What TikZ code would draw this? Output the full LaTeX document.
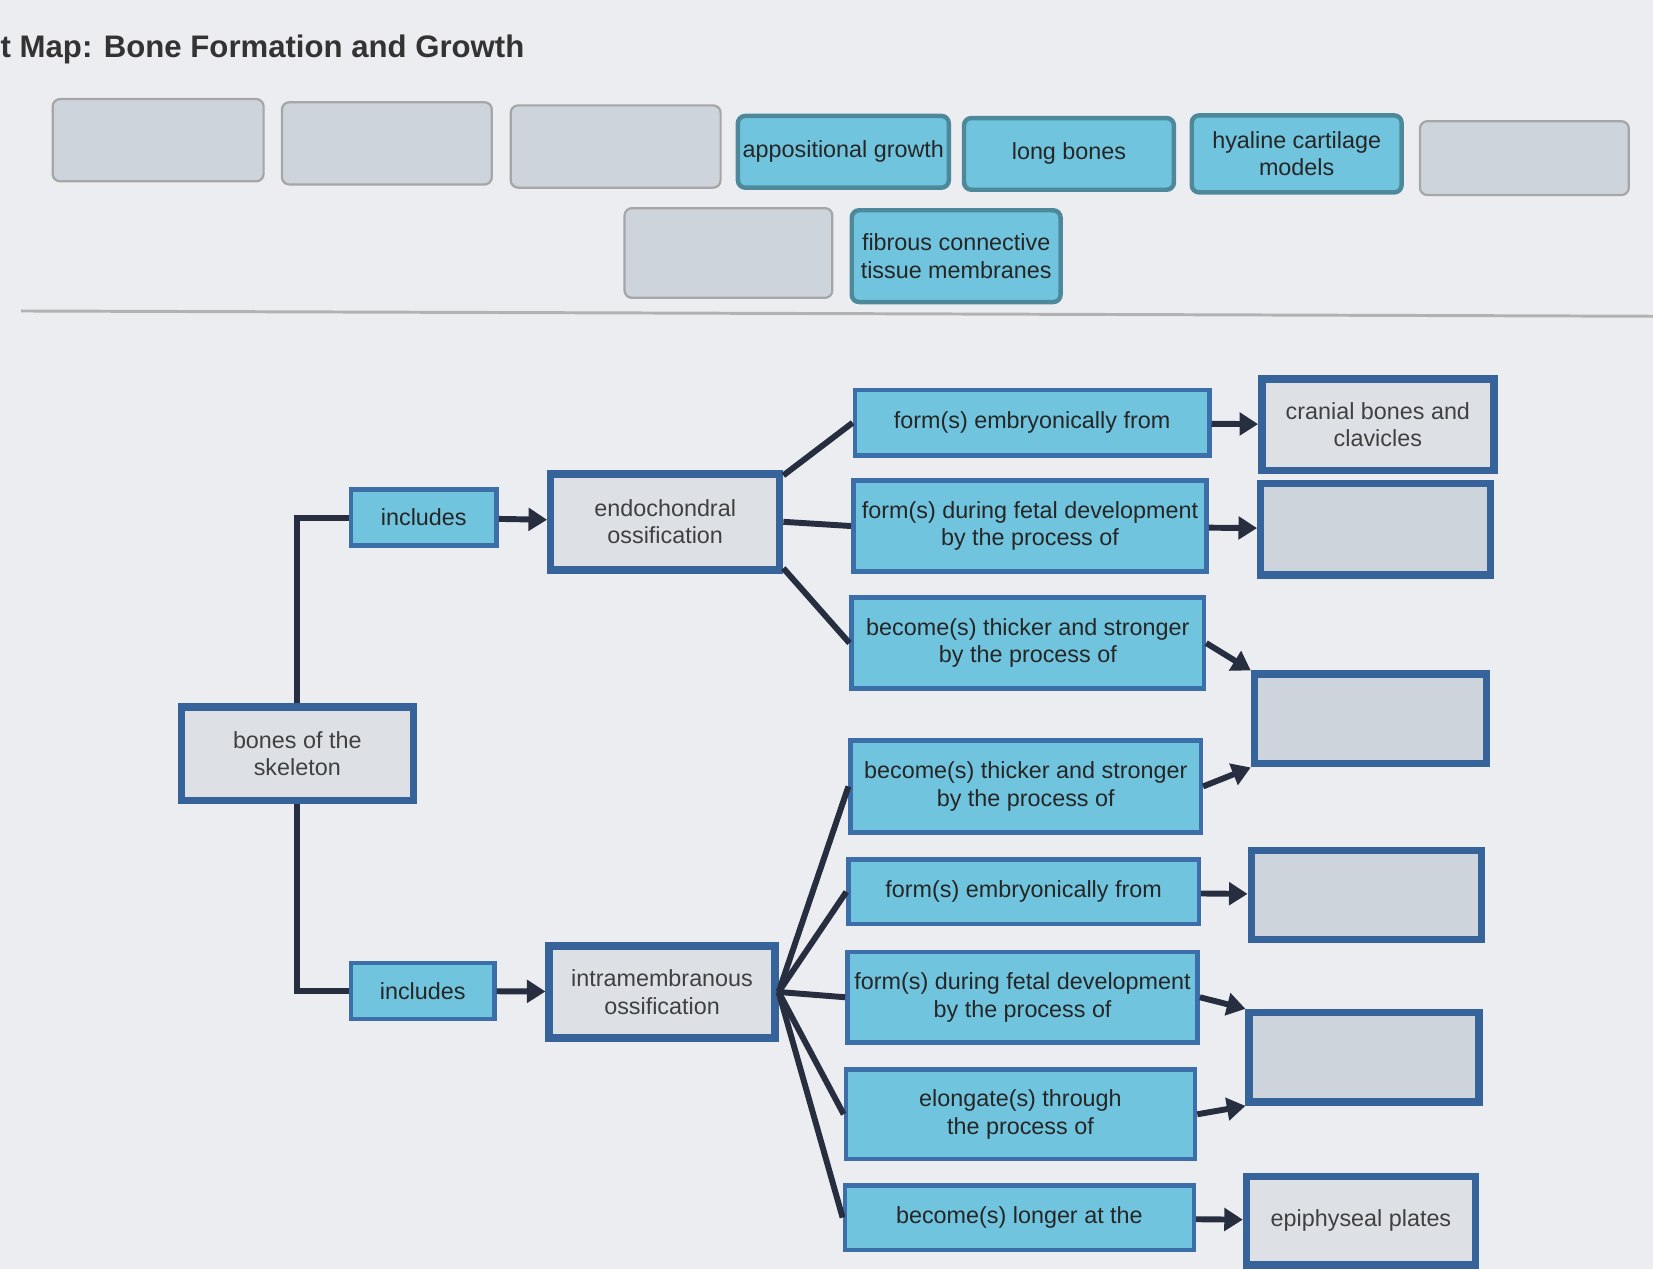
\documentclass[tikz,border=0pt]{standalone}
\usepackage{fontspec}
\setmainfont{Liberation Sans}
\usetikzlibrary{arrows.meta}
\definecolor{tealbox}{RGB}{112,196,222}
\definecolor{tealedge}{RGB}{60,110,170}
\definecolor{paper}{RGB}{236,237,240}
\definecolor{blank}{RGB}{206,212,220}
\definecolor{linkc}{RGB}{38,46,64}
\tikzset{
  lbl/.style={draw=tealedge,line width=1.2pt,fill=tealbox,text=black!85,align=center,
    font=\fontsize{6.3}{7.4}\selectfont,inner sep=1pt},
  tile/.style={draw=black!35,line width=0.6pt,fill=blank,rounded corners=2pt},
  bank/.style={lbl,draw=tealbox!70!black,rounded corners=2pt},
  cpt/.style={draw=tealedge!90!black,line width=2pt,fill=blank!70!white,align=center,
    font=\fontsize{6.3}{7.4}\selectfont,text=black!75,inner sep=1pt},
  link/.style={draw=linkc,line width=1.6pt},
  arr/.style={link,-{Triangle[length=5pt,width=6pt]}}
}
\begin{document}
\begin{tikzpicture}[x=0.01cm,y=-0.01cm]
  \useasboundingbox[fill=paper] (0,0) rectangle (1568,1204);
  \node[anchor=west,font=\bfseries\fontsize{8.4}{10}\selectfont,text=black!80,inner sep=0pt] (title) at (0,47) {t Map: Bone Formation and Growth};
  \draw[black!30,line width=0.8pt] (20,295) -- (1568,300);
  % word bank
  \node[tile,minimum width=2cm,minimum height=0.78cm] (g1) at (150,133) {};
  \node[tile,minimum width=1.99cm,minimum height=0.78cm] (g2) at (367,136) {};
  \node[tile,minimum width=1.99cm,minimum height=0.78cm] (g3) at (584,139) {};
  \node[bank,minimum width=2cm,minimum height=0.68cm] (b1) at (800,144) {appositional growth};
  \node[bank,minimum width=1.99cm,minimum height=0.68cm] (b2) at (1014,146) {long bones};
  \node[bank,minimum width=1.99cm,minimum height=0.73cm] (b3) at (1230,146) {hyaline cartilage\\models};
  \node[tile,minimum width=1.98cm,minimum height=0.7cm] (g4) at (1446,150) {};
  \node[tile,minimum width=1.97cm,minimum height=0.85cm] (g5) at (691,240) {};
  \node[bank,minimum width=1.98cm,minimum height=0.87cm] (b4) at (907,243) {fibrous connective\\tissue membranes};
  % concept map
  \node[cpt,minimum width=2.2cm,minimum height=0.89cm] (bones) at (282,715) {bones of the\\skeleton};
  \node[lbl,minimum width=1.38cm,minimum height=0.53cm] (inc1) at (402,491) {includes};
  \node[lbl,minimum width=1.36cm,minimum height=0.53cm] (inc2) at (401,940) {includes};
  \node[cpt,minimum width=2.17cm,minimum height=0.91cm] (endo) at (631,495) {endochondral\\ossification};
  \node[cpt,minimum width=2.14cm,minimum height=0.87cm] (intra) at (628,941) {intramembranous\\ossification};
  \node[lbl,minimum width=3.36cm,minimum height=0.62cm] (e1) at (979,401) {form(s) embryonically from};
  \node[lbl,minimum width=3.35cm,minimum height=0.86cm] (e2) at (977,499) {form(s) during fetal development\\by the process of};
  \node[lbl,minimum width=3.34cm,minimum height=0.86cm] (e3) at (975,610) {become(s) thicker and stronger\\by the process of};
  \node[lbl,minimum width=3.32cm,minimum height=0.87cm] (i1) at (973,746) {become(s) thicker and stronger\\by the process of};
  \node[lbl,minimum width=3.32cm,minimum height=0.61cm] (i2) at (971,846) {form(s) embryonically from};
  \node[lbl,minimum width=3.32cm,minimum height=0.86cm] (i3) at (970,946) {form(s) during fetal development\\by the process of};
  \node[lbl,minimum width=3.31cm,minimum height=0.85cm] (i4) at (968,1057) {elongate(s) through\\the process of};
  \node[lbl,minimum width=3.31cm,minimum height=0.61cm] (i5) at (967,1155) {become(s) longer at the};
  \node[cpt,minimum width=2.2cm,minimum height=0.87cm] (t1) at (1307,403) {cranial bones and\\clavicles};
  \node[cpt,fill=blank,minimum width=2.18cm,minimum height=0.87cm] (t2) at (1305,502) {};
  \node[cpt,fill=blank,minimum width=2.2cm,minimum height=0.85cm] (t3) at (1300,682) {};
  \node[cpt,fill=blank,minimum width=2.18cm,minimum height=0.84cm] (t4) at (1296,849) {};
  \node[cpt,fill=blank,minimum width=2.18cm,minimum height=0.85cm] (t5) at (1294,1003) {};
  \node[cpt,minimum width=2.17cm,minimum height=0.84cm] (t6) at (1291,1158) {epiphyseal plates};
  % connectors
  \draw[link] (bones.north) |- (inc1.west);
  \draw[link] (bones.south) |- (inc2.west);
  \draw[arr] (inc1) -- (endo);
  \draw[arr] (inc2) -- (intra);
  \draw[link] ([yshift=-0.05cm]endo.north east) -- (e1.west);
  \draw[link] (endo.east) -- (e2.west);
  \draw[link] ([yshift=0.05cm]endo.south east) -- (e3.west);
  \foreach \n in {i1,i2,i3,i4,i5} \draw[link] (intra.east) -- (\n.west);
  \draw[arr] (e1) -- (t1);
  \draw[arr] (e2) -- (t2);
  \draw[arr] (e3.east) -- (t3.north west);
  \draw[arr] (i1.east) -- (t3.south west);
  \draw[arr] (i2) -- (t4);
  \draw[arr] (i3.east) -- (t5.north west);
  \draw[arr] (i4.east) -- (t5.south west);
  \draw[arr] (i5) -- (t6);
\end{tikzpicture}
\end{document}
